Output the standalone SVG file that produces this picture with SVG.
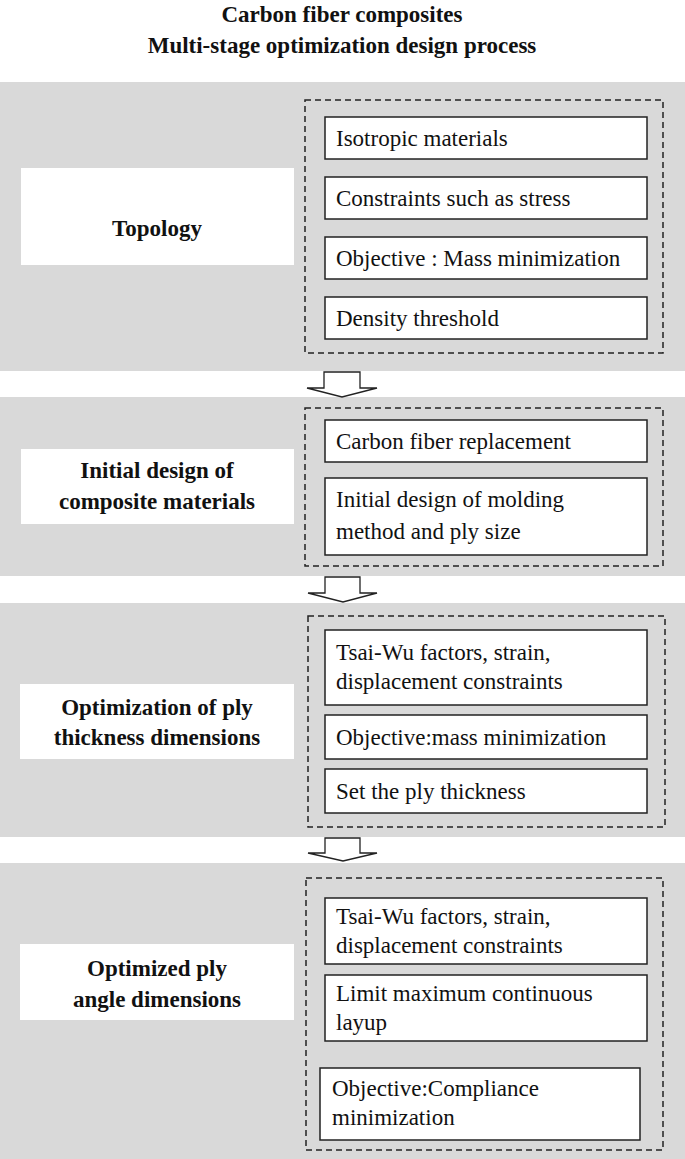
<svg xmlns="http://www.w3.org/2000/svg" width="685" height="1159" viewBox="0 0 685 1159" font-family="'Liberation Serif', 'Times New Roman', serif">
<style>
.band{fill:#d9d9d9}
.lbl{fill:#fff}
.dash{fill:none;stroke:#222;stroke-width:1.5;stroke-dasharray:6,4}
.box{fill:#fff;stroke:#222;stroke-width:1.5}
.arr{fill:#fff;stroke:#222;stroke-width:1.3}
text{font-family:'Liberation Serif','Times New Roman',serif;font-size:23px;fill:#111}
.b{font-weight:bold;text-anchor:middle;font-size:23px}
</style>
<rect width="685" height="1159" fill="#fff"/>
<g id="title"><text class="b" x="342" y="22">Carbon fiber composites</text><text class="b" x="342" y="53">Multi-stage optimization design process</text></g>
<g id="stage1">
<rect class="band" x="0" y="82" width="685" height="289"/>
<rect class="lbl" x="21" y="168" width="273" height="97"/>
<text class="b" x="157" y="236">Topology</text>
<rect class="dash" x="305" y="100" width="358" height="253"/>
<rect class="box" x="325" y="117" width="322" height="42"/><text x="336" y="146">Isotropic materials</text>
<rect class="box" x="325" y="177" width="322" height="42"/><text x="336" y="206">Constraints such as stress</text>
<rect class="box" x="325" y="237" width="322" height="42"/><text x="336" y="266">Objective : Mass minimization</text>
<rect class="box" x="325" y="297" width="322" height="42"/><text x="336" y="326">Density threshold</text>
</g>
<g id="stage2">
<rect class="band" x="0" y="397" width="685" height="179"/>
<rect class="lbl" x="21" y="449" width="273" height="75"/>
<text class="b" x="157" y="478">Initial design of</text><text class="b" x="157" y="509">composite materials</text>
<rect class="dash" x="305" y="408" width="358" height="158"/>
<rect class="box" x="325" y="420" width="322" height="42"/><text x="336" y="449">Carbon fiber replacement</text>
<rect class="box" x="325" y="478" width="322" height="77"/><text x="336" y="507">Initial design of molding</text><text x="336" y="539"> method and ply size</text>
</g>
<g id="stage3">
<rect class="band" x="0" y="603" width="685" height="234"/>
<rect class="lbl" x="20" y="684" width="274" height="75"/>
<text class="b" x="157" y="715">Optimization of ply</text><text class="b" x="157" y="745">thickness dimensions</text>
<rect class="dash" x="308" y="616" width="357" height="211"/>
<rect class="box" x="325" y="630" width="322" height="75"/><text x="336" y="660">Tsai-Wu factors, strain,</text><text x="336" y="689">displacement constraints</text>
<rect class="box" x="325" y="715" width="322" height="44"/><text x="336" y="745">Objective:mass minimization</text>
<rect class="box" x="325" y="769" width="322" height="44"/><text x="336" y="799">Set the ply thickness</text>
</g>
<g id="stage4">
<rect class="band" x="0" y="863" width="685" height="296"/>
<rect class="lbl" x="20" y="944" width="274" height="76"/>
<text class="b" x="157" y="976">Optimized ply</text><text class="b" x="157" y="1007">angle dimensions</text>
<rect class="dash" x="306" y="878" width="357" height="272"/>
<rect class="box" x="325" y="898" width="322" height="66"/><text x="336" y="924">Tsai-Wu factors, strain,</text><text x="336" y="953">displacement constraints</text>
<rect class="box" x="325" y="975" width="322" height="66"/><text x="336" y="1001">Limit maximum continuous</text><text x="336" y="1030">layup</text>
<rect class="box" x="320" y="1068" width="320" height="72"/><text x="332" y="1096">Objective:Compliance</text><text x="332" y="1125">minimization</text>
</g>
<g id="connectors">
<polygon class="arr" points="324,372 360,372 360,388 377,388 342,397 307,388 324,388"/>
<polygon class="arr" points="325,577 360,577 360,593 377,593 343,602 308,593 325,593"/>
<polygon class="arr" points="325,838 360,838 360,853 377,853 343,861 308,853 325,853"/>
</g>
</svg>
